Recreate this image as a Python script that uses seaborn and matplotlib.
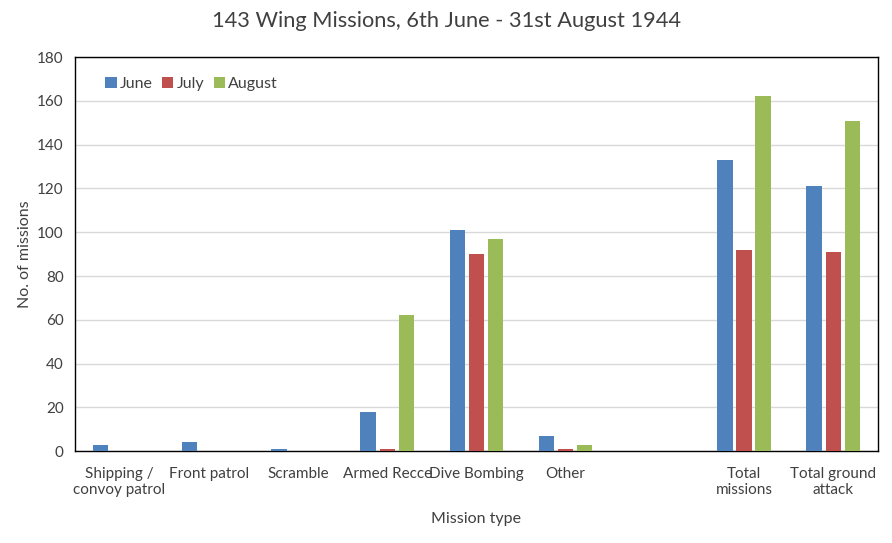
import numpy as np
import pandas as pd
import matplotlib
matplotlib.use("Agg")
import matplotlib.pyplot as plt
import seaborn as sns

categories = ["Shipping /\nconvoy patrol", "Front patrol", "Scramble", "Armed Recce",
              "Dive Bombing", "Other", "Total\nmissions", "Total ground\nattack"]
june = [3, 4, 1, 18, 101, 7, 133, 121]
july = [0, 0, 0, 1, 90, 1, 92, 91]
august = [0, 0, 0, 62, 97, 3, 162, 151]
months = ["June", "July", "August"]
yticks = [0, 20, 40, 60, 80, 100, 120, 140, 160, 180]

# leere Lücke zwischen "Other" und den Summen
order = categories[:6] + [" "] + categories[6:]

df = pd.DataFrame({
    "Mission type": categories * 3,
    "month": np.repeat(months, len(categories)),
    "missions": june + july + august,
})

sns.set_style("white")
plt.rcParams["font.family"] = ["Lato", "DejaVu Sans"]

fig = plt.figure(figsize=(8.92, 5.43), dpi=100)
ax = fig.add_axes([0.084, 0.169, 0.9, 0.726])

sns.barplot(data=df, x="Mission type", y="missions", hue="month", order=order,
            hue_order=months, palette=["#4F81BD", "#C0504D", "#9BBB59"],
            saturation=1, linewidth=0, width=0.64, gap=0.2, ax=ax, zorder=3)

ax.set_ylim(0, 180)
ax.set_yticks(yticks)
ax.yaxis.grid(True, color="#D9D9D9", linewidth=1, zorder=0)
ax.set_axisbelow(True)
for s in ax.spines.values():
    s.set_visible(True)
    s.set_color("black")
    s.set_linewidth(1)
ax.tick_params(axis="y", length=0, labelsize=11, colors="#404040", pad=8)
ax.tick_params(axis="x", length=0, labelsize=11, colors="#404040", pad=11)
ax.set_ylabel("No. of missions", fontsize=11.5, color="#404040")
ax.set_xlabel("Mission type", fontsize=11.5, color="#404040", labelpad=11)
fig.suptitle("143 Wing Missions, 6th June - 31st August 1944", fontsize=15.7,
             color="#404040", y=0.98)

leg = ax.legend(loc="upper left", ncol=3, frameon=False, fontsize=11.5,
                handlelength=0.7, handleheight=0.7, handletextpad=0.2,
                columnspacing=0.6, bbox_to_anchor=(0.02, 0.985))
for t in leg.get_texts():
    t.set_color("#404040")

fig.savefig("out.png", dpi=100)
